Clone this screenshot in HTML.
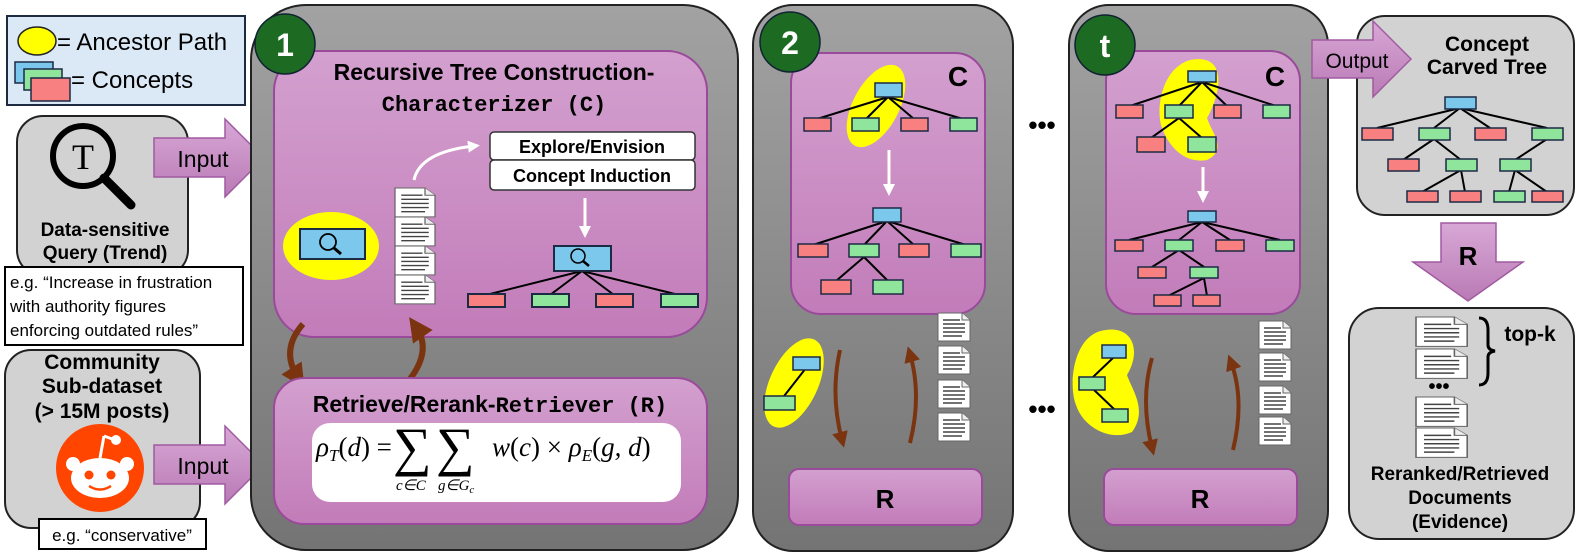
<!DOCTYPE html>
<html><head><meta charset="utf-8"><style>
html,body{margin:0;padding:0;background:#fff}
svg{display:block}
.b{font-family:"Liberation Sans Narrow","Liberation Sans",sans-serif;font-weight:bold}
.n{font-family:"Liberation Sans Narrow","Liberation Sans",sans-serif}
.m{font-family:"Liberation Mono",monospace;font-weight:bold}
.s{font-family:"Liberation Serif",serif;font-style:italic}
</style></head><body>
<svg width="1581" height="554" viewBox="0 0 1581 554" xmlns="http://www.w3.org/2000/svg">
<defs>
<linearGradient id="gp" x1="0" y1="0" x2="0" y2="1"><stop offset="0" stop-color="#a2a2a2"/><stop offset="1" stop-color="#747474"/></linearGradient>
<linearGradient id="pk" x1="0" y1="0" x2="0" y2="1"><stop offset="0" stop-color="#d3a0cf"/><stop offset="1" stop-color="#c27cb9"/></linearGradient>
<linearGradient id="ar" x1="0" y1="0" x2="0" y2="1"><stop offset="0" stop-color="#d8a8d6"/><stop offset="1" stop-color="#b97ab5"/></linearGradient>
<marker id="bh" markerWidth="4" markerHeight="4" refX="2" refY="2" orient="auto"><path d="M0,0 L4,2 L0,4 Z" fill="#7a3510"/></marker>
<marker id="wh" markerWidth="4" markerHeight="4" refX="2" refY="2" orient="auto"><path d="M0,0 L4,2 L0,4 Z" fill="#fff"/></marker>
<g id="doc"><path d="M0,0 H24 L32,7 V28 H0 Z" fill="#fff" stroke="#666" stroke-width="1"/><path d="M24,0 V7 H32" fill="#eee" stroke="#666"/><path d="M5,7 H22 M5,11 H27 M5,15 H27 M5,19 H27 M5,23 H24" stroke="#444" stroke-width="1.4"/></g>
</defs>

<!-- legend -->
<rect x="7" y="16" width="238" height="89" fill="#dbe8f5" stroke="#1c2a44" stroke-width="2"/>
<ellipse cx="37" cy="41" rx="19" ry="14" fill="#ffff00" stroke="#222" stroke-width="1.5"/>
<text x="57" y="50" class="n" font-size="24">= Ancestor Path</text>
<rect x="15" y="62" width="38" height="21" fill="#7cc8ec" stroke="#1c2a44" stroke-width="1.5"/>
<rect x="24" y="69" width="38" height="21" fill="#8fe59b" stroke="#1c2a44" stroke-width="1.5"/>
<rect x="31" y="78" width="39" height="23" fill="#f88080" stroke="#1c2a44" stroke-width="1.5"/>
<text x="71" y="88" class="n" font-size="24">= Concepts</text>

<!-- query box -->
<rect x="17" y="116" width="171" height="160" rx="26" fill="#d2d2d2" stroke="#222" stroke-width="2"/>
<circle cx="83" cy="156" r="30" fill="none" stroke="#000" stroke-width="6"/>
<line x1="104" y1="178" x2="131" y2="205" stroke="#000" stroke-width="9" stroke-linecap="round"/>
<text x="83" y="169" font-family="Liberation Serif,serif" font-size="36" text-anchor="middle">T</text>
<text x="105" y="236" class="b" font-size="19" text-anchor="middle">Data-sensitive</text>
<text x="105" y="259" class="b" font-size="19" text-anchor="middle">Query (Trend)</text>
<rect x="5" y="267" width="238" height="78" fill="#fff" stroke="#000" stroke-width="2"/>
<text x="10" y="288" class="n" font-size="17">e.g. “Increase in frustration</text>
<text x="10" y="312" class="n" font-size="17">with authority figures</text>
<text x="10" y="336" class="n" font-size="17">enforcing outdated rules”</text>

<!-- community -->
<rect x="5" y="350" width="195" height="178" rx="26" fill="#d2d2d2" stroke="#222" stroke-width="2"/>
<text x="102" y="369" class="b" font-size="21" text-anchor="middle">Community</text>
<text x="102" y="393" class="b" font-size="21" text-anchor="middle">Sub-dataset</text>
<text x="102" y="418" class="b" font-size="21" text-anchor="middle">(&gt; 15M posts)</text>
<circle cx="100" cy="468" r="44" fill="#ff4500"/>
<ellipse cx="100" cy="478" rx="29" ry="20" fill="#fff"/>
<circle cx="73" cy="464" r="7" fill="#fff"/><circle cx="127" cy="464" r="7" fill="#fff"/>
<line x1="100" y1="458" x2="104" y2="436" stroke="#fff" stroke-width="3"/><line x1="104" y1="436" x2="115" y2="440" stroke="#fff" stroke-width="3"/>
<circle cx="116" cy="440" r="5" fill="#fff"/>
<circle cx="89" cy="475" r="4.5" fill="#ff4500"/><circle cx="111" cy="475" r="4.5" fill="#ff4500"/>
<path d="M89,486 Q100,493 111,486" stroke="#ff4500" stroke-width="2.5" fill="none"/>
<rect x="39" y="519" width="167" height="30" fill="#fff" stroke="#000" stroke-width="2"/>
<text x="122" y="541" class="n" font-size="17" text-anchor="middle">e.g. “conservative”</text>

<!-- input arrows -->
<path d="M154,138 H225 V119 L264,158 L225,197 V177 H154 Z" fill="url(#ar)" stroke="#a05aa0" stroke-width="1.5"/>
<text x="203" y="167" class="n" font-size="23" text-anchor="middle">Input</text>
<path d="M154,445 H225 V426 L264,465 L225,504 V484 H154 Z" fill="url(#ar)" stroke="#a05aa0" stroke-width="1.5"/>
<text x="203" y="474" class="n" font-size="23" text-anchor="middle">Input</text>

<!-- panel 1 -->
<rect x="251" y="5" width="487" height="545" rx="55" fill="url(#gp)" stroke="#222" stroke-width="2"/>
<rect x="274" y="51" width="433" height="286" rx="40" fill="url(#pk)" stroke="#9a4a9a" stroke-width="2"/>
<circle cx="285" cy="44" r="30" fill="#1d6b22" stroke="#123" stroke-width="1.5"/>
<text x="285" y="56" class="b" font-size="32" fill="#fff" text-anchor="middle">1</text>
<text x="494" y="80" class="b" font-size="23" text-anchor="middle">Recursive Tree Construction-</text>
<text x="494" y="111" class="m" font-size="22" text-anchor="middle">Characterizer (C)</text>
<rect x="490" y="132" width="205" height="28" rx="4" fill="#fff" stroke="#333" stroke-width="1.5"/>
<text x="592" y="153" class="b" font-size="18" text-anchor="middle">Explore/Envision</text>
<rect x="490" y="160" width="205" height="30" rx="4" fill="#fff" stroke="#333" stroke-width="1.5"/>
<text x="592" y="182" class="b" font-size="18" text-anchor="middle">Concept Induction</text>
<path d="M414,180 Q420,152 474,146" stroke="#fff" stroke-width="3" fill="none" marker-end="url(#wh)"/>
<line x1="585" y1="198" x2="585" y2="232" stroke="#fff" stroke-width="3" marker-end="url(#wh)"/>
<g transform="translate(395,188) scale(1.25,1.03)"><use href="#doc"/></g>
<g transform="translate(395,217) scale(1.25,1.03)"><use href="#doc"/></g>
<g transform="translate(395,246) scale(1.25,1.03)"><use href="#doc"/></g>
<g transform="translate(395,275) scale(1.25,1.03)"><use href="#doc"/></g>
<ellipse cx="331" cy="246" rx="48" ry="34" fill="#ffff00"/>
<rect x="300" y="229" width="65" height="30" fill="#7cc8ec" stroke="#1c2a44" stroke-width="2"/>
<circle cx="328" cy="242" r="8" fill="none" stroke="#000" stroke-width="1.8"/><line x1="334" y1="248" x2="341" y2="254" stroke="#000" stroke-width="3"/>
<g stroke="#000" stroke-width="2"><line x1="582" y1="271" x2="486" y2="295"/><line x1="582" y1="271" x2="550" y2="295"/><line x1="582" y1="271" x2="614" y2="295"/><line x1="582" y1="271" x2="679" y2="295"/></g>
<rect x="554" y="246" width="57" height="25" fill="#7cc8ec" stroke="#1c2a44" stroke-width="2"/>
<circle cx="578" cy="256" r="7" fill="none" stroke="#000" stroke-width="1.5"/><line x1="583" y1="261" x2="589" y2="266" stroke="#000" stroke-width="2.5"/>
<g stroke="#1c2a44" stroke-width="2"><rect x="468" y="294" width="37" height="13" fill="#f88080"/><rect x="532" y="294" width="37" height="13" fill="#8fe59b"/><rect x="596" y="294" width="37" height="13" fill="#f88080"/><rect x="661" y="294" width="37" height="13" fill="#8fe59b"/></g>
<path d="M303,324 Q280,350 298,378" stroke="#7a3510" stroke-width="6" fill="none" marker-end="url(#bh)"/>
<path d="M410,379 Q432,350 416,327" stroke="#7a3510" stroke-width="6" fill="none" marker-end="url(#bh)"/>
<rect x="274" y="378" width="433" height="146" rx="30" fill="url(#pk)" stroke="#9a4a9a" stroke-width="2"/>
<text x="490" y="412" class="b" font-size="23" text-anchor="middle">Retrieve/Rerank-<tspan class="m" font-size="22">Retriever (R)</tspan></text>
<rect x="312" y="423" width="369" height="79" rx="18" fill="#fff"/>
<text x="316" y="456" class="s" font-size="27">ρ<tspan font-size="17" dy="5">T</tspan><tspan dy="-5" font-style="normal">(</tspan>d<tspan font-style="normal">) =</tspan></text>
<text x="393" y="465" font-family="Liberation Serif,serif" font-size="54">∑</text>
<text x="436" y="465" font-family="Liberation Serif,serif" font-size="54">∑</text>
<text x="396" y="490" class="s" font-size="15">c∈C</text>
<text x="438" y="490" class="s" font-size="15">g∈G<tspan font-size="11" dy="3">c</tspan></text>
<text x="492" y="456" class="s" font-size="27">w<tspan font-style="normal">(</tspan>c<tspan font-style="normal">) × </tspan>ρ<tspan font-size="17" dy="5">E</tspan><tspan dy="-5" font-style="normal">(</tspan>g, d<tspan font-style="normal">)</tspan></text>

<!-- panel 2 -->
<rect x="753" y="5" width="260" height="546" rx="40" fill="url(#gp)" stroke="#222" stroke-width="2"/>
<rect x="791" y="53" width="194" height="261" rx="30" fill="url(#pk)" stroke="#9a4a9a" stroke-width="2"/>
<circle cx="790" cy="42" r="30" fill="#1d6b22" stroke="#123" stroke-width="1.5"/>
<text x="790" y="54" class="b" font-size="32" fill="#fff" text-anchor="middle">2</text>
<text x="958" y="86" class="b" font-size="28" text-anchor="middle">C</text>
<ellipse cx="876" cy="106" rx="23" ry="45" transform="rotate(28 876 106)" fill="#ffff00"/>
<g stroke="#000" stroke-width="2"><line x1="888" y1="97" x2="817" y2="119"/><line x1="888" y1="97" x2="866" y2="119"/><line x1="888" y1="97" x2="914" y2="119"/><line x1="888" y1="97" x2="963" y2="119"/></g>
<rect x="875" y="83" width="27" height="14" fill="#7cc8ec" stroke="#1c2a44" stroke-width="1.5"/>
<g stroke="#1c2a44" stroke-width="1.5"><rect x="804" y="118" width="27" height="13" fill="#f88080"/><rect x="852" y="118" width="27" height="13" fill="#8fe59b"/><rect x="901" y="118" width="27" height="13" fill="#f88080"/><rect x="950" y="118" width="27" height="13" fill="#8fe59b"/></g>
<line x1="889" y1="150" x2="889" y2="190" stroke="#fff" stroke-width="3" marker-end="url(#wh)"/>
<g stroke="#000" stroke-width="2"><line x1="887" y1="221" x2="813" y2="245"/><line x1="887" y1="221" x2="864" y2="245"/><line x1="887" y1="221" x2="914" y2="245"/><line x1="887" y1="221" x2="966" y2="245"/><line x1="864" y1="257" x2="836" y2="281"/><line x1="864" y1="257" x2="888" y2="281"/></g>
<rect x="873" y="208" width="28" height="14" fill="#7cc8ec" stroke="#1c2a44" stroke-width="1.5"/>
<g stroke="#1c2a44" stroke-width="1.5"><rect x="798" y="244" width="30" height="13" fill="#f88080"/><rect x="849" y="244" width="30" height="13" fill="#8fe59b"/><rect x="899" y="244" width="30" height="13" fill="#f88080"/><rect x="951" y="244" width="30" height="13" fill="#8fe59b"/><rect x="821" y="280" width="30" height="14" fill="#f88080"/><rect x="873" y="280" width="30" height="14" fill="#8fe59b"/></g>
<ellipse cx="794" cy="383" rx="24" ry="48" transform="rotate(25 794 383)" fill="#ffff00"/>
<line x1="806" y1="368" x2="781" y2="400" stroke="#000" stroke-width="2"/>
<rect x="793" y="357" width="27" height="13" fill="#7cc8ec" stroke="#1c2a44" stroke-width="1.5"/>
<rect x="764" y="396" width="31" height="14" fill="#8fe59b" stroke="#1c2a44" stroke-width="1.5"/>
<path d="M840,350 Q830,395 842,440" stroke="#7a3510" stroke-width="4" fill="none" marker-end="url(#bh)"/>
<path d="M910,443 Q922,395 910,354" stroke="#7a3510" stroke-width="4" fill="none" marker-end="url(#bh)"/>
<use href="#doc" x="938" y="313"/><use href="#doc" x="938" y="346"/><use href="#doc" x="938" y="380"/><use href="#doc" x="938" y="413"/>
<rect x="789" y="469" width="193" height="56" rx="10" fill="url(#pk)" stroke="#9a4a9a" stroke-width="2"/>
<text x="885" y="508" class="b" font-size="26" text-anchor="middle">R</text>

<text x="1042" y="134" class="b" font-size="26" text-anchor="middle">•••</text>
<text x="1042" y="418" class="b" font-size="26" text-anchor="middle">•••</text>

<!-- panel t -->
<rect x="1069" y="5" width="259" height="546" rx="40" fill="url(#gp)" stroke="#222" stroke-width="2"/>
<rect x="1106" y="51" width="194" height="263" rx="30" fill="url(#pk)" stroke="#9a4a9a" stroke-width="2"/>
<circle cx="1105" cy="45" r="30" fill="#1d6b22" stroke="#123" stroke-width="1.5"/>
<text x="1105" y="57" class="b" font-size="32" fill="#fff" text-anchor="middle">t</text>
<text x="1275" y="86" class="b" font-size="28" text-anchor="middle">C</text>
<path d="M1190,60 C1232,52 1218,100 1207,118 C1212,133 1228,150 1207,160 C1185,164 1168,147 1161,125 C1156,105 1163,68 1190,60 Z" fill="#ffff00"/>
<g stroke="#000" stroke-width="2"><line x1="1202" y1="82" x2="1130" y2="106"/><line x1="1202" y1="82" x2="1179" y2="106"/><line x1="1202" y1="82" x2="1227" y2="106"/><line x1="1202" y1="82" x2="1276" y2="106"/><line x1="1179" y1="118" x2="1151" y2="138"/><line x1="1179" y1="118" x2="1202" y2="138"/></g>
<rect x="1188" y="71" width="28" height="11" fill="#7cc8ec" stroke="#1c2a44" stroke-width="1.5"/>
<g stroke="#1c2a44" stroke-width="1.5"><rect x="1116" y="105" width="27" height="13" fill="#f88080"/><rect x="1165" y="105" width="28" height="13" fill="#8fe59b"/><rect x="1214" y="105" width="27" height="13" fill="#f88080"/><rect x="1263" y="105" width="27" height="13" fill="#8fe59b"/><rect x="1137" y="137" width="28" height="15" fill="#f88080"/><rect x="1188" y="137" width="28" height="15" fill="#8fe59b"/></g>
<line x1="1203" y1="167" x2="1203" y2="197" stroke="#fff" stroke-width="3" marker-end="url(#wh)"/>
<g stroke="#000" stroke-width="2"><line x1="1202" y1="222" x2="1129" y2="240"/><line x1="1202" y1="222" x2="1179" y2="240"/><line x1="1202" y1="222" x2="1230" y2="240"/><line x1="1202" y1="222" x2="1280" y2="240"/><line x1="1179" y1="250" x2="1152" y2="267"/><line x1="1179" y1="250" x2="1204" y2="267"/><line x1="1204" y1="278" x2="1168" y2="296"/><line x1="1204" y1="278" x2="1207" y2="296"/></g>
<rect x="1188" y="211" width="28" height="11" fill="#7cc8ec" stroke="#1c2a44" stroke-width="1.5"/>
<g stroke="#1c2a44" stroke-width="1.5"><rect x="1115" y="240" width="28" height="11" fill="#f88080"/><rect x="1165" y="240" width="28" height="11" fill="#8fe59b"/><rect x="1216" y="240" width="28" height="11" fill="#f88080"/><rect x="1266" y="240" width="28" height="11" fill="#8fe59b"/><rect x="1138" y="267" width="28" height="11" fill="#f88080"/><rect x="1190" y="267" width="28" height="11" fill="#8fe59b"/><rect x="1154" y="295" width="27" height="11" fill="#f88080"/><rect x="1193" y="295" width="27" height="11" fill="#f88080"/></g>
<path d="M1106,330 C1132,326 1142,350 1127,375 C1132,390 1148,410 1132,432 C1110,442 1083,427 1076,405 C1068,385 1073,333 1106,330 Z" fill="#ffff00"/>
<g stroke="#000" stroke-width="2"><line x1="1114" y1="357" x2="1092" y2="378"/><line x1="1092" y1="388" x2="1115" y2="410"/></g>
<rect x="1102" y="345" width="24" height="13" fill="#7cc8ec" stroke="#1c2a44" stroke-width="1.5"/>
<rect x="1079" y="377" width="26" height="13" fill="#8fe59b" stroke="#1c2a44" stroke-width="1.5"/>
<rect x="1102" y="409" width="26" height="13" fill="#8fe59b" stroke="#1c2a44" stroke-width="1.5"/>
<path d="M1152,358 Q1140,400 1152,448" stroke="#7a3510" stroke-width="4" fill="none" marker-end="url(#bh)"/>
<path d="M1233,450 Q1245,400 1231,362" stroke="#7a3510" stroke-width="4" fill="none" marker-end="url(#bh)"/>
<use href="#doc" x="1259" y="321"/><use href="#doc" x="1259" y="353"/><use href="#doc" x="1259" y="386"/><use href="#doc" x="1259" y="417"/>
<rect x="1104" y="469" width="193" height="56" rx="10" fill="url(#pk)" stroke="#9a4a9a" stroke-width="2"/>
<text x="1200" y="508" class="b" font-size="26" text-anchor="middle">R</text>

<!-- output -->
<rect x="1357" y="16" width="217" height="199" rx="28" fill="#d2d2d2" stroke="#222" stroke-width="2"/>
<path d="M1312,40 H1373 V21 L1411,59 L1373,97 V78 H1312 Z" fill="url(#ar)" stroke="#a05aa0" stroke-width="1.5"/>
<text x="1357" y="68" class="n" font-size="21" text-anchor="middle">Output</text>
<text x="1487" y="51" class="b" font-size="21" text-anchor="middle">Concept</text>
<text x="1487" y="74" class="b" font-size="21" text-anchor="middle">Carved Tree</text>
<g stroke="#000" stroke-width="2"><line x1="1460" y1="108" x2="1377" y2="128"/><line x1="1460" y1="108" x2="1434" y2="128"/><line x1="1460" y1="108" x2="1490" y2="128"/><line x1="1460" y1="108" x2="1547" y2="128"/><line x1="1434" y1="139" x2="1403" y2="160"/><line x1="1434" y1="139" x2="1461" y2="160"/><line x1="1547" y1="139" x2="1515" y2="160"/><line x1="1461" y1="170" x2="1422" y2="192"/><line x1="1461" y1="170" x2="1465" y2="192"/><line x1="1515" y1="170" x2="1509" y2="192"/><line x1="1515" y1="170" x2="1547" y2="192"/></g>
<rect x="1445" y="97" width="31" height="12" fill="#7cc8ec" stroke="#1c2a44" stroke-width="1.5"/>
<g stroke="#1c2a44" stroke-width="1.5"><rect x="1362" y="128" width="31" height="12" fill="#f88080"/><rect x="1419" y="128" width="31" height="12" fill="#8fe59b"/><rect x="1475" y="128" width="31" height="12" fill="#f88080"/><rect x="1532" y="128" width="31" height="12" fill="#8fe59b"/><rect x="1388" y="159" width="31" height="12" fill="#f88080"/><rect x="1446" y="159" width="31" height="12" fill="#8fe59b"/><rect x="1500" y="159" width="31" height="12" fill="#8fe59b"/><rect x="1407" y="191" width="31" height="11" fill="#f88080"/><rect x="1450" y="191" width="31" height="11" fill="#f88080"/><rect x="1494" y="191" width="31" height="11" fill="#8fe59b"/><rect x="1532" y="191" width="31" height="11" fill="#f88080"/></g>
<path d="M1441,223 H1496 V262 H1523 L1468,301 L1413,262 H1441 Z" fill="url(#ar)" stroke="#a05aa0" stroke-width="1.5"/>
<text x="1468" y="265" class="b" font-size="26" text-anchor="middle">R</text>
<rect x="1349" y="308" width="225" height="231" rx="30" fill="#d2d2d2" stroke="#222" stroke-width="2"/>
<g transform="translate(1416,317) scale(1.6,1.05)"><use href="#doc"/></g>
<g transform="translate(1416,349) scale(1.6,1.05)"><use href="#doc"/></g>
<g transform="translate(1416,397) scale(1.6,1.05)"><use href="#doc"/></g>
<g transform="translate(1416,428) scale(1.6,1.05)"><use href="#doc"/></g>
<text x="1439" y="393" class="b" font-size="20" text-anchor="middle">•••</text>
<path d="M1479,318 Q1488,318 1488,330 V345 Q1488,350 1495,351 Q1488,352 1488,357 V373 Q1488,385 1479,385" stroke="#000" stroke-width="3" fill="none"/>
<text x="1530" y="341" class="b" font-size="21" text-anchor="middle">top-k</text>
<text x="1460" y="480" class="b" font-size="19" text-anchor="middle">Reranked/Retrieved</text>
<text x="1460" y="504" class="b" font-size="19" text-anchor="middle">Documents</text>
<text x="1460" y="528" class="b" font-size="19" text-anchor="middle">(Evidence)</text>
</svg>
</body></html>
